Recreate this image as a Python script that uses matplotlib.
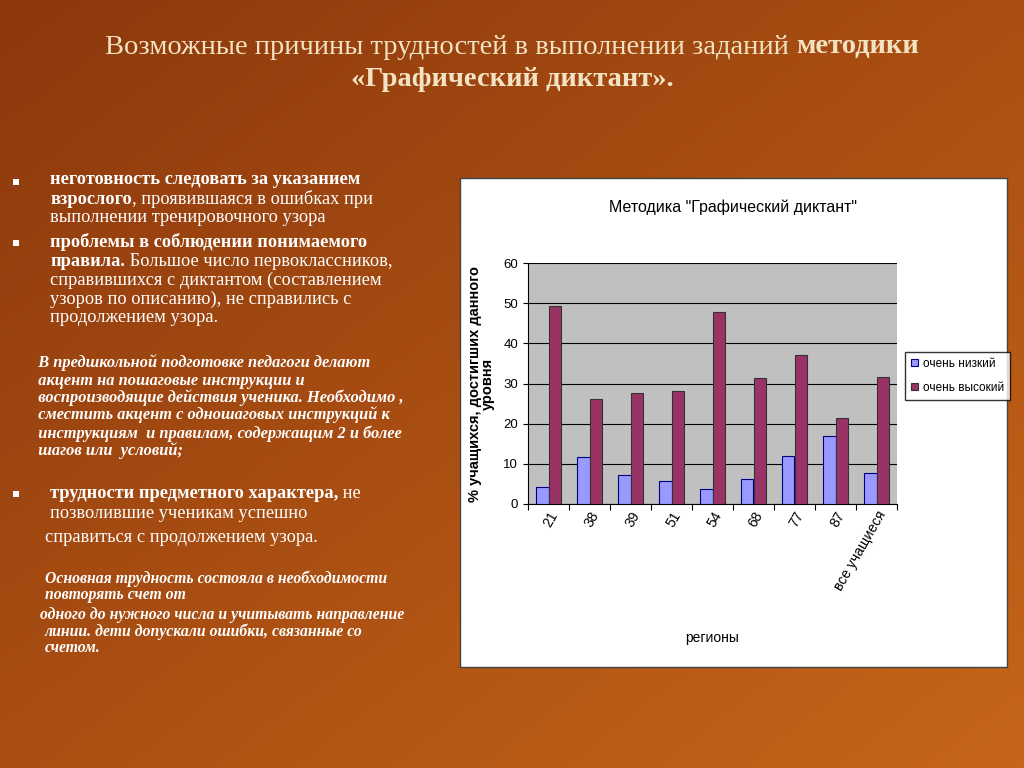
import numpy as np
import matplotlib
matplotlib.use("Agg")
import matplotlib.pyplot as plt
from matplotlib.patches import Rectangle

categories = ["21", "38", "39", "51", "54", "68", "77", "87", "все учащиеся"]
low = [4.2, 11.6, 7.2, 5.8, 3.8, 6.2, 12.0, 17.0, 7.6]
high = [49.2, 26.2, 27.6, 28.2, 47.9, 31.3, 37.0, 21.5, 31.6]
yticks = [0, 10, 20, 30, 40, 50, 60]

W, H = 1024, 768
fig = plt.figure(figsize=(10.24, 7.68), dpi=100)
renderer = fig.canvas.get_renderer()

bg = fig.add_axes([0, 0, 1, 1])
yy, xx = np.mgrid[0:1:200j, 0:1:200j]
t = np.clip(0.5 * xx + 0.5 * yy, 0, 1)
c1 = np.array([0.55, 0.22, 0.05]); c2 = np.array([0.78, 0.40, 0.10])
img = c1[None, None, :] * (1 - t[..., None]) + c2[None, None, :] * t[..., None]
bg.imshow(img, extent=[0, 1, 0, 1], aspect="auto", origin="upper")
bg.set_xlim(0, 1); bg.set_ylim(0, 1); bg.axis("off")

def fx(px): return px / W
def fy(py): return 1 - py / H

ser = "Liberation Serif"
def pieces(x, y, parts, color="white", fontsize=13.2, ha="left"):
    objs = []
    cx = x
    for s, b in parts:
        tx = fig.text(fx(cx), fy(y), s, fontsize=fontsize, family=ser, color=color, va="center", ha="left",
                      fontweight="bold" if b else "normal")
        objs.append(tx)
        cx += tx.get_window_extent(renderer).width
    if ha == "center":
        cx2 = x - (cx - x) / 2
        for tx in objs:
            tx.set_x(fx(cx2)); cx2 += tx.get_window_extent(renderer).width

tc = "#f3e3c3"
pieces(512, 47, [("Возможные причины трудностей в выполнении заданий ", False), ("методики", True)],
       color=tc, fontsize=20.5, ha="center")
pieces(512, 80, [("«Графический диктант».", True)], color=tc, fontsize=20.5, ha="center")

def bullet(y):
    fig.patches.append(Rectangle((fx(13), fy(y + 3)), 6 / W, 6 / H, transform=fig.transFigure,
                                 facecolor="white", edgecolor="none"))

bullet(182)
pieces(50, 180, [("неготовность следовать за указанием", True)])
pieces(50, 199, [("взрослого", True), (", проявившаяся в ошибках при", False)])
pieces(50, 218, [("выполнении тренировочного узора", False)])
bullet(243)
pieces(50, 242, [("проблемы в соблюдении понимаемого", True)])
pieces(50, 261, [("правила.", True), (" Большое число первоклассников,", False)])
pieces(50, 280, [("справившихся с диктантом (составлением", False)])
pieces(50, 299, [("узоров по описанию), не справились с", False)])
pieces(50, 318, [("продолжением узора.", False)])
for y, s in [(363, "  В предшкольной подготовке педагоги делают"), (381, "  акцент на пошаговые инструкции и"),
             (398, "  воспроизводящие действия ученика. Необходимо ,"), (415, "  сместить акцент с одношаговых инструкций к"),
             (434, "  инструкциям  и правилам, содержащим 2 и более"), (451, "  шагов или  условий;")]:
    fig.text(fx(30), fy(y), s, fontsize=11.8, family=ser, color="white", va="center",
             fontweight="bold", style="italic")
bullet(494)
pieces(50, 494, [("трудности предметного характера,", True), (" не", False)])
pieces(50, 513, [("позволившие ученикам успешно", False)])
pieces(45, 537, [("справиться с продолжением узора.", False)])
for x, y, s in [(45, 579, "Основная трудность состояла в необходимости"), (45, 595, "повторять счет от"),
                (40, 615, "одного до нужного числа и учитывать направление"), (45, 632, "линии. дети допускали ошибки, связанные со"),
                (45, 648, "счетом.")]:
    fig.text(fx(x), fy(y), s, fontsize=11.3, family=ser, color="white", va="center",
             fontweight="bold", style="italic")

fig.patches.append(Rectangle((fx(460), fy(667)), fx(1007 - 460), (667 - 178) / H, transform=fig.transFigure,
                             facecolor="white", edgecolor="#444444", lw=1, zorder=1))
sans = "Liberation Sans"
fig.text(fx(733), fy(207), 'Методика "Графический диктант"', ha="center", va="center", fontsize=11.5,
         family=sans, color="black", zorder=3)

ax = fig.add_axes([fx(528), fy(504), fx(897 - 528), (504 - 263) / H], zorder=2)
ax.set_facecolor("#c0c0c0")
x = np.arange(len(categories))
bw = 0.3
ax.bar(x - bw / 2, low, bw, color="#9999ff", edgecolor="#000080", lw=0.8, label="очень низкий", zorder=3)
ax.bar(x + bw / 2, high, bw, color="#993366", edgecolor="#333333", lw=0.8, label="очень высокий", zorder=3)
ax.set_xlim(-0.5, len(categories) - 0.5)
ax.set_ylim(0, 60)
ax.set_yticks(yticks)
ax.set_yticklabels([str(v) for v in yticks], fontsize=9.5, family=sans)
ax.grid(axis="y", color="black", lw=0.8, zorder=1)
ax.set_xticks(np.arange(len(categories) + 1) - 0.5, minor=False, labels=[""] * (len(categories) + 1))
ax.set_xticks(x, minor=True, labels=categories)
ax.tick_params(axis="x", which="minor", length=0, labelrotation=60, labelsize=10)
ax.tick_params(axis="x", which="major", length=4, direction="out")
for lab in ax.get_xticklabels(minor=True):
    lab.set_ha("right"); lab.set_rotation_mode("anchor"); lab.set_family(sans)
for s in ["top", "right"]:
    ax.spines[s].set_visible(False)
ax.set_ylabel("% учащихся, достигших данного\nуровня", fontsize=10.5, fontweight="bold", family=sans, labelpad=6,
              linespacing=0.9)
fig.text(fx(712), fy(638), "регионы", ha="center", va="center", fontsize=10, family=sans, zorder=3)
leg = fig.legend(*ax.get_legend_handles_labels(), loc="upper left", bbox_to_anchor=(fx(905), fy(352)),
                 bbox_transform=fig.transFigure, frameon=True, fancybox=False,
                 edgecolor="black", handlelength=0.6, handleheight=0.6, borderpad=0.5, labelspacing=1.0,
                 handletextpad=0.4, borderaxespad=0, prop={"family": sans, "size": 8.5})
leg.set_zorder(5)
fig.savefig("out.png", dpi=100)
